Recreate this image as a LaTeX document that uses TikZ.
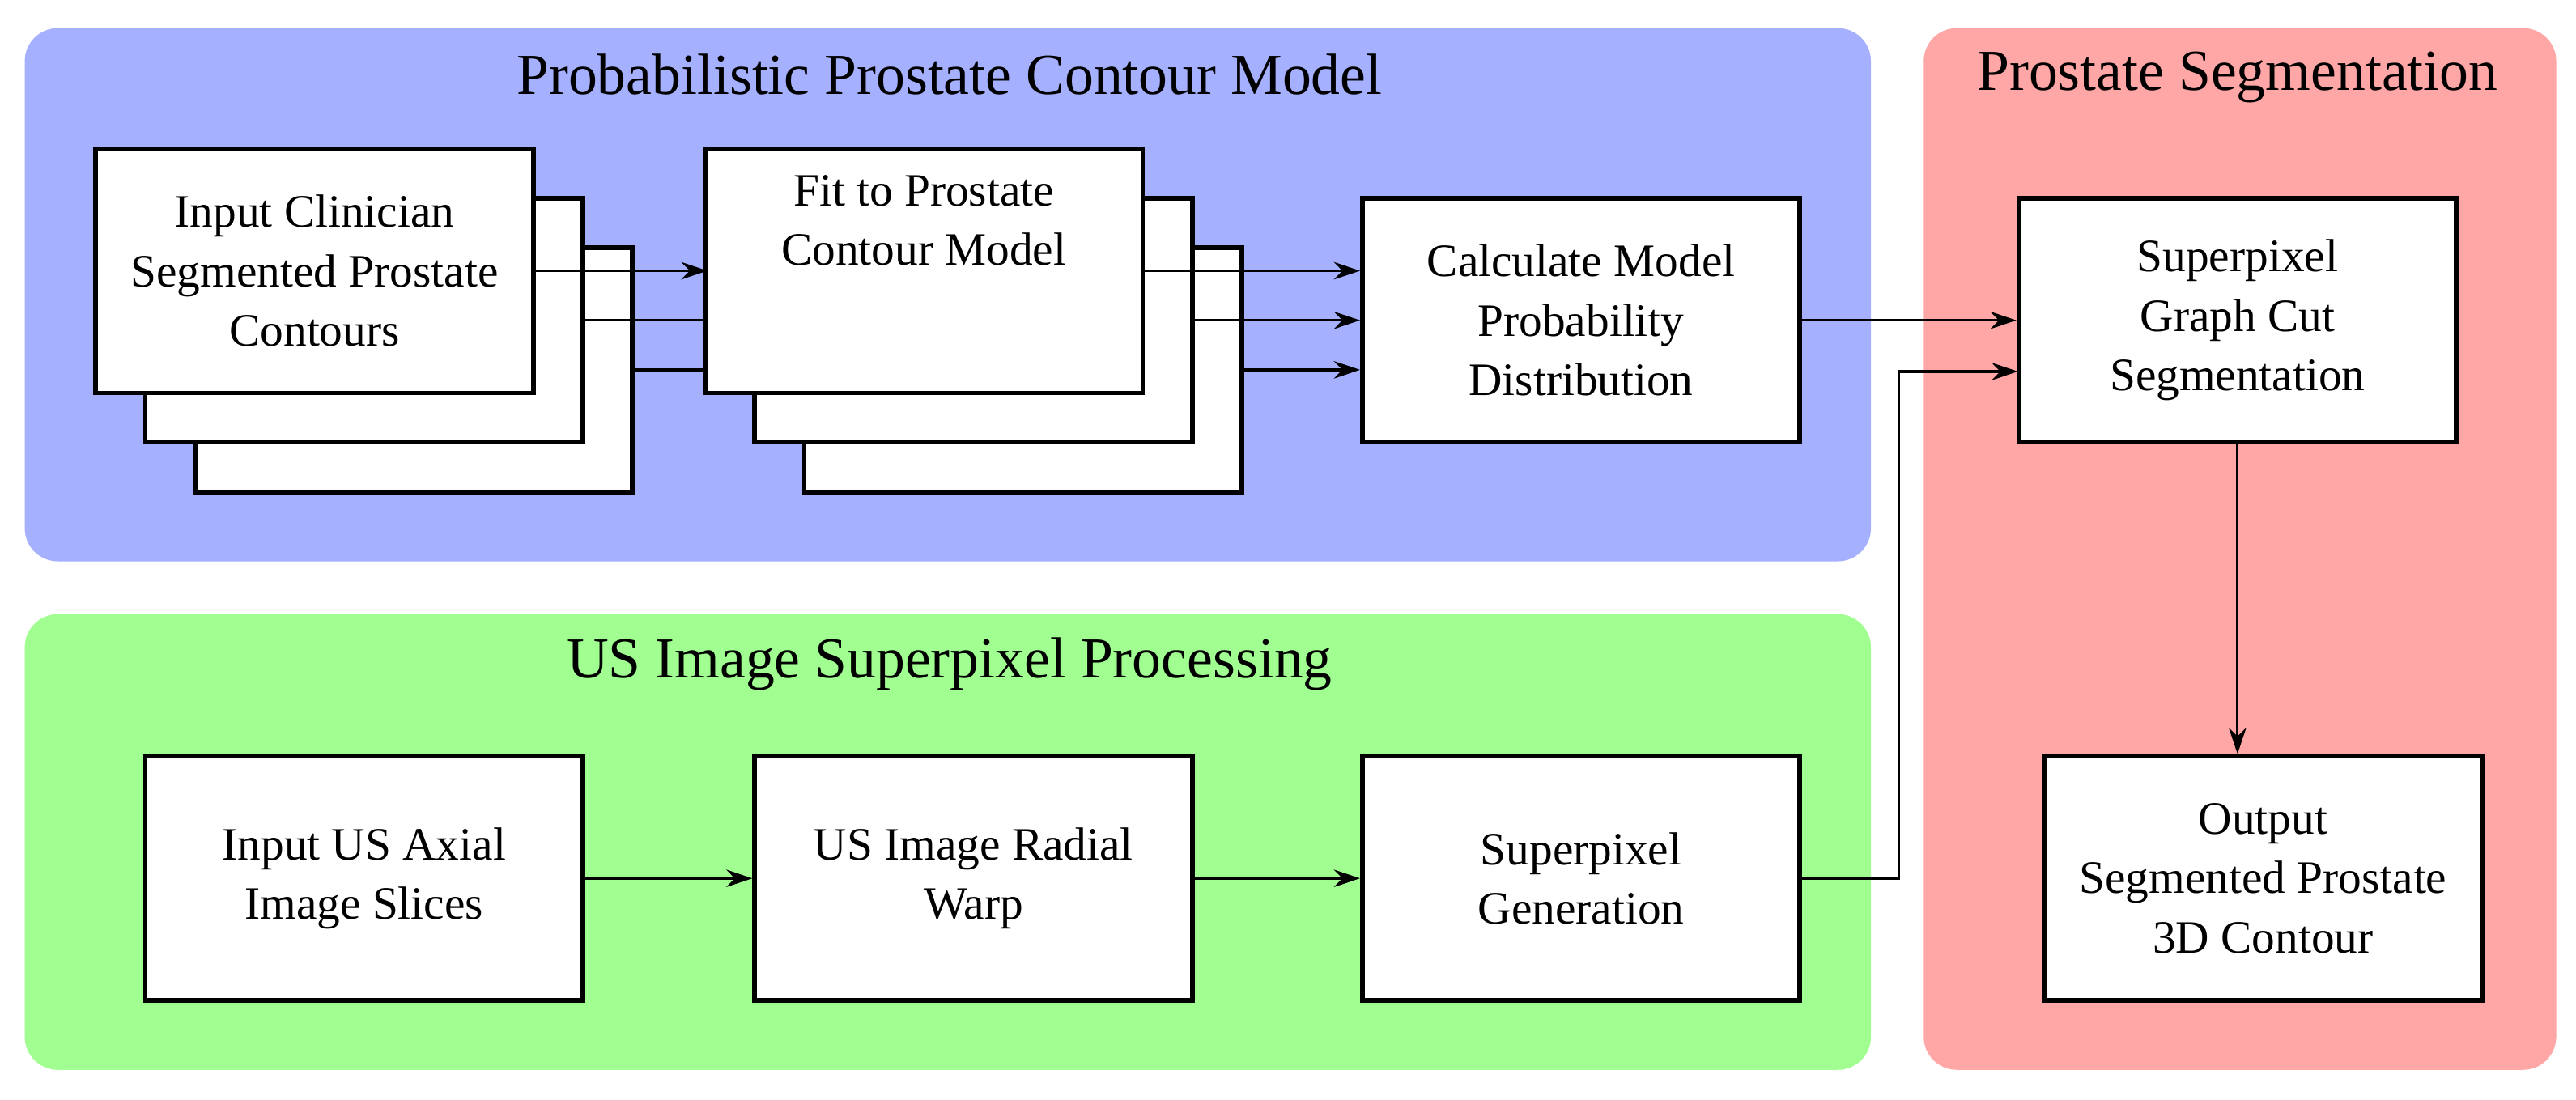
\documentclass[tikz,border=0pt]{standalone}
\usepackage{fontspec}
\setmainfont{Liberation Serif}
\usetikzlibrary{arrows.meta,calc}
\definecolor{pblue}{RGB}{165,176,255}
\definecolor{pgreen}{RGB}{160,255,144}
\definecolor{pred}{RGB}{255,166,166}
\begin{document}
\begin{tikzpicture}[x=0.02cm,y=-0.02cm,
  panel/.style={rounded corners=0.4cm},
  title/.style={font=\fontsize{20}{24}\selectfont},
  box/.style={draw,fill=white,line width=1.6pt,minimum width=5.3cm,minimum height=2.96cm,align=center,font=\fontsize{16}{20.5}\selectfont,inner sep=0pt},
  arr/.style={line width=0.9pt,-{Stealth[length=9pt,width=6pt]}},
  ln/.style={line width=0.9pt}]
\useasboundingbox (0,0) rectangle (1560,666);
\fill[pblue,panel] (15,17) rectangle (1133,340);
\fill[pred,panel] (1165,17) rectangle (1548,648);
\fill[pgreen,panel] (15,372) rectangle (1133,648);
\node[title] (t1) at (575,45) {Probabilistic Prostate Contour Model};
\node[title] (t2) at (1355,47) {Prostate Segmentation};
\node[title] (t3) at (575,402) {US Image Superpixel Processing};
% stack 1
\node[box] (s1c) at (250.5,224) {};
\node[box] (s1b) at (220.5,194) {};
\node[box] (s1a) at (190.5,164) {Input Clinician\\Segmented Prostate\\Contours};
% arrows between stacks
\draw[arr] (s1a.east) -- ++(104,0) coordinate (e1);
\draw[ln] (s1b.east) -- ++(80,0) coordinate (e2);
\draw[ln] (s1c.east) -- ++(50,0) coordinate (e3);
% stack 2
\node[box] (s2c) at (619.5,224) {};
\node[box] (s2b) at (589.5,194) {};
\node[box] (s2a) at (559.5,164) {Fit to Prostate\\Contour Model\\[0.9em]};
\node[box] (calc) at (957.5,194) {Calculate Model\\Probability\\Distribution};
\draw[arr] (s2a.east) -- (s2a.east -| calc.west);
\draw[arr] (s2b.east) -- (s2b.east -| calc.west);
\draw[arr] (s2c.east) -- (s2c.east -| calc.west);
\node[box] (sgc) at (1355,194) {Superpixel\\Graph Cut\\Segmentation};
\node[box] (out) at (1370.5,532) {Output\\Segmented Prostate\\3D Contour};
\node[box] (g1) at (220.5,532) {Input US Axial\\Image Slices};
\node[box] (g2) at (589.5,532) {US Image Radial\\Warp};
\node[box] (g3) at (957.5,532) {Superpixel\\Generation};
\draw[arr] (calc.east) -- (sgc.west);
\draw[arr] (g1) -- (g2);
\draw[arr] (g2) -- (g3);
\draw[arr] (g3.east) -- (1150,532) -- (1150,225) -- (1222,225);
\draw[arr] (sgc.south) -- (sgc.south |- out.north);
\end{tikzpicture}
\end{document}
